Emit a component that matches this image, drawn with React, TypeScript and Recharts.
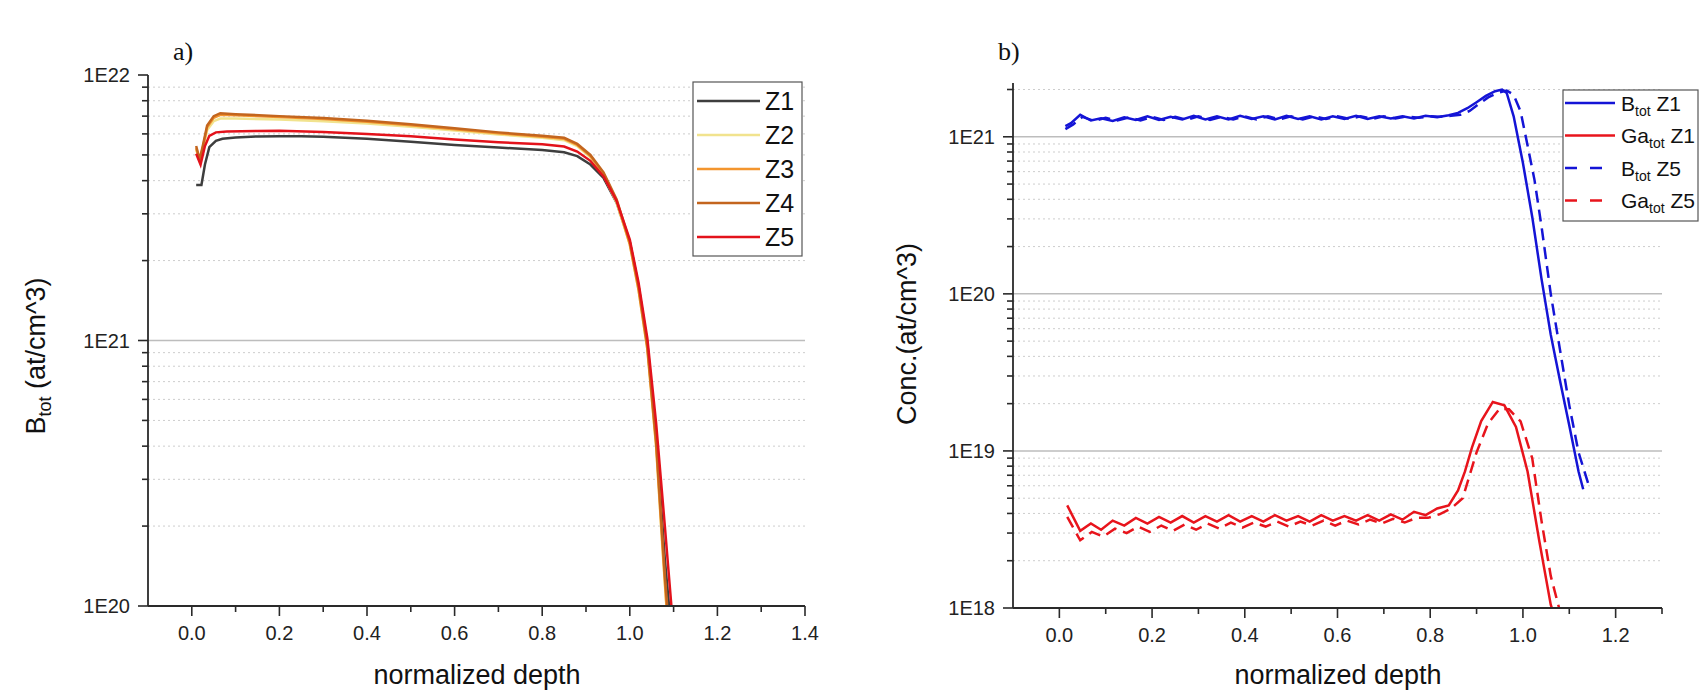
import { CartesianGrid, Line, LineChart, XAxis, YAxis } from "recharts";

type Pt = [number, number];

// panel a) — B_tot profiles for zones Z1..Z5 (depth, at/cm^3)
const bTotZ1: Pt[] = [
  [0.01, 3.85e21], [0.022, 3.85e21], [0.03, 4.6e21], [0.04, 5.35e21], [0.055, 5.65e21], [0.07, 5.75e21],
  [0.1, 5.82e21], [0.15, 5.87e21], [0.2, 5.88e21], [0.25, 5.88e21], [0.3, 5.85e21], [0.4, 5.75e21],
  [0.5, 5.6e21], [0.6, 5.45e21], [0.7, 5.33e21], [0.8, 5.22e21], [0.85, 5.12e21], [0.88, 4.95e21],
  [0.91, 4.6e21], [0.94, 4.1e21], [0.97, 3.3e21], [1.0, 2.35e21], [1.02, 1.6e21], [1.04, 9.8e20],
  [1.06, 4.4e20], [1.08, 1.5e20], [1.095, 8e19],
];
const bTotZ2: Pt[] = [
  [0.01, 5.25e21], [0.018, 4.75e21], [0.026, 5.3e21], [0.035, 6.2e21], [0.05, 6.7e21], [0.065, 6.85e21],
  [0.1, 6.85e21], [0.2, 6.8e21], [0.3, 6.7e21], [0.4, 6.56e21], [0.5, 6.38e21], [0.6, 6.18e21],
  [0.7, 5.97e21], [0.8, 5.8e21], [0.85, 5.68e21], [0.88, 5.4e21], [0.91, 4.9e21], [0.94, 4.2e21],
  [0.97, 3.3e21], [1.0, 2.3e21], [1.02, 1.55e21], [1.04, 9.3e20], [1.06, 4e20], [1.075, 1.6e20], [1.09, 7e19],
];
const bTotZ3: Pt[] = [
  [0.01, 5.3e21], [0.018, 4.75e21], [0.026, 5.4e21], [0.035, 6.35e21], [0.05, 6.9e21], [0.065, 7.08e21],
  [0.1, 7.05e21], [0.2, 6.95e21], [0.3, 6.83e21], [0.4, 6.67e21], [0.5, 6.47e21], [0.6, 6.25e21],
  [0.7, 6.03e21], [0.8, 5.85e21], [0.85, 5.75e21], [0.88, 5.45e21], [0.91, 4.95e21], [0.94, 4.25e21],
  [0.97, 3.35e21], [1.0, 2.3e21], [1.02, 1.55e21], [1.04, 9.3e20], [1.06, 4.05e20], [1.075, 1.65e20], [1.09, 7e19],
];
const bTotZ4: Pt[] = [
  [0.01, 5.4e21], [0.018, 4.8e21], [0.026, 5.5e21], [0.035, 6.45e21], [0.05, 7.0e21], [0.065, 7.18e21],
  [0.1, 7.12e21], [0.2, 7.0e21], [0.3, 6.88e21], [0.4, 6.72e21], [0.5, 6.52e21], [0.6, 6.3e21],
  [0.7, 6.08e21], [0.8, 5.9e21], [0.85, 5.8e21], [0.88, 5.5e21], [0.91, 5.0e21], [0.94, 4.3e21],
  [0.97, 3.4e21], [1.0, 2.35e21], [1.02, 1.6e21], [1.04, 9.6e20], [1.06, 4.2e20], [1.08, 1.3e20], [1.09, 8e19],
];
const bTotZ5: Pt[] = [
  [0.01, 5.05e21], [0.02, 4.6e21], [0.03, 5.4e21], [0.04, 5.9e21], [0.055, 6.08e21], [0.08, 6.12e21],
  [0.15, 6.15e21], [0.2, 6.16e21], [0.3, 6.1e21], [0.4, 6.0e21], [0.5, 5.88e21], [0.6, 5.72e21],
  [0.7, 5.58e21], [0.8, 5.48e21], [0.85, 5.38e21], [0.88, 5.15e21], [0.91, 4.75e21], [0.94, 4.15e21],
  [0.97, 3.35e21], [1.0, 2.4e21], [1.02, 1.65e21], [1.04, 1.02e21], [1.06, 4.9e20], [1.08, 2e20],
  [1.095, 1e20], [1.105, 7e19],
];

// panel b) — B and Ga totals for Z1 and Z5
const bZ1: Pt[] = [
  [0.013, 1.17e21], [0.025, 1.22e21], [0.045, 1.38e21], [0.068, 1.27e21], [0.09, 1.31e21],
  [0.115, 1.26e21], [0.14, 1.33e21], [0.165, 1.28e21], [0.19, 1.35e21], [0.215, 1.28e21], [0.24, 1.34e21],
  [0.265, 1.29e21], [0.29, 1.36e21], [0.315, 1.29e21], [0.34, 1.35e21], [0.365, 1.29e21], [0.39, 1.36e21],
  [0.415, 1.3e21], [0.44, 1.35e21], [0.465, 1.29e21], [0.49, 1.36e21], [0.515, 1.3e21], [0.54, 1.35e21],
  [0.565, 1.29e21], [0.59, 1.35e21], [0.615, 1.3e21], [0.64, 1.36e21], [0.665, 1.3e21], [0.69, 1.35e21],
  [0.715, 1.31e21], [0.74, 1.35e21], [0.765, 1.31e21], [0.79, 1.36e21], [0.815, 1.33e21], [0.84, 1.37e21],
  [0.86, 1.42e21], [0.88, 1.52e21], [0.9, 1.66e21], [0.92, 1.82e21], [0.94, 1.95e21], [0.955, 2.0e21],
  [0.965, 1.9e21], [0.98, 1.35e21], [1.0, 6.8e20], [1.02, 3.1e20], [1.04, 1.25e20], [1.06, 5.5e19],
  [1.08, 2.8e19], [1.1, 1.45e19], [1.12, 7.4e18], [1.13, 5.7e18],
];
const gaZ1: Pt[] = [
  [0.017, 4.5e18], [0.045, 3.1e18], [0.068, 3.45e18], [0.09, 3.15e18], [0.115, 3.6e18], [0.14, 3.35e18],
  [0.165, 3.75e18], [0.19, 3.45e18], [0.215, 3.8e18], [0.24, 3.5e18], [0.265, 3.85e18], [0.29, 3.5e18],
  [0.315, 3.85e18], [0.34, 3.55e18], [0.365, 3.9e18], [0.39, 3.55e18], [0.415, 3.85e18], [0.44, 3.55e18],
  [0.465, 3.9e18], [0.49, 3.6e18], [0.515, 3.85e18], [0.54, 3.55e18], [0.565, 3.9e18], [0.59, 3.6e18],
  [0.615, 3.85e18], [0.64, 3.6e18], [0.665, 3.9e18], [0.69, 3.6e18], [0.715, 3.95e18], [0.74, 3.65e18],
  [0.765, 4.1e18], [0.79, 3.9e18], [0.815, 4.3e18], [0.84, 4.5e18], [0.86, 5.6e18], [0.875, 7.4e18],
  [0.89, 1.05e19], [0.91, 1.55e19], [0.935, 2.05e19], [0.96, 1.95e19], [0.985, 1.42e19], [1.01, 7.4e18],
  [1.035, 2.7e18], [1.06, 1.05e18], [1.07, 8.5e17],
];
const bZ5: Pt[] = [
  [0.013, 1.12e21], [0.03, 1.2e21], [0.05, 1.34e21], [0.075, 1.26e21], [0.1, 1.32e21], [0.125, 1.27e21],
  [0.15, 1.33e21], [0.175, 1.27e21], [0.2, 1.34e21], [0.225, 1.28e21], [0.25, 1.34e21], [0.275, 1.28e21],
  [0.3, 1.35e21], [0.325, 1.28e21], [0.35, 1.34e21], [0.375, 1.29e21], [0.4, 1.35e21], [0.425, 1.29e21],
  [0.45, 1.35e21], [0.475, 1.29e21], [0.5, 1.35e21], [0.525, 1.29e21], [0.55, 1.35e21], [0.575, 1.3e21],
  [0.6, 1.35e21], [0.625, 1.3e21], [0.65, 1.35e21], [0.675, 1.3e21], [0.7, 1.35e21], [0.725, 1.31e21],
  [0.75, 1.35e21], [0.775, 1.32e21], [0.8, 1.35e21], [0.82, 1.34e21], [0.845, 1.36e21], [0.865, 1.38e21],
  [0.885, 1.46e21], [0.905, 1.62e21], [0.925, 1.78e21], [0.945, 1.9e21], [0.965, 1.97e21], [0.98, 1.85e21],
  [0.995, 1.45e21], [1.01, 8.8e20], [1.025, 5.3e20], [1.04, 2.7e20], [1.06, 1.0e20], [1.08, 4.4e19],
  [1.1, 1.95e19], [1.12, 9.8e18], [1.143, 5.9e18],
];
const gaZ5: Pt[] = [
  [0.017, 3.8e18], [0.045, 2.7e18], [0.07, 3.05e18], [0.095, 2.85e18], [0.12, 3.2e18], [0.145, 3.0e18],
  [0.17, 3.3e18], [0.195, 3.05e18], [0.22, 3.35e18], [0.245, 3.1e18], [0.27, 3.4e18], [0.295, 3.15e18],
  [0.32, 3.45e18], [0.345, 3.2e18], [0.37, 3.5e18], [0.395, 3.25e18], [0.42, 3.5e18], [0.445, 3.3e18],
  [0.47, 3.55e18], [0.495, 3.3e18], [0.52, 3.55e18], [0.545, 3.35e18], [0.57, 3.6e18], [0.595, 3.35e18],
  [0.62, 3.6e18], [0.645, 3.4e18], [0.67, 3.65e18], [0.695, 3.45e18], [0.72, 3.7e18], [0.745, 3.5e18],
  [0.77, 3.75e18], [0.795, 3.75e18], [0.82, 3.95e18], [0.845, 4.3e18], [0.87, 5.0e18], [0.9, 9.8e18],
  [0.925, 1.5e19], [0.95, 1.86e19], [0.97, 1.84e19], [0.995, 1.54e19], [1.02, 9.0e18], [1.04, 3.6e18],
  [1.06, 1.6e18], [1.078, 1.0e18], [1.085, 8e17],
];

const zoneNames = ["Z1", "Z2", "Z3", "Z4", "Z5"];
const zoneColors = ["#3e3e3e", "#f1e38e", "#f3952e", "#c3651e", "#e3121b"];
const zoneData = [bTotZ1, bTotZ2, bTotZ3, bTotZ4, bTotZ5];

const concSpecies = ["B", "Ga", "B", "Ga"];
const concZones = ["Z1", "Z1", "Z5", "Z5"];
const concColors = ["#1414d6", "#e8141c", "#1414d6", "#e8141c"];
const concDashed = [false, false, true, true];
const concData = [bZ1, gaZ1, bZ5, gaZ5];

const leftDecades = [1e20, 1e21, 1e22];
const rightDecades = [1e18, 1e19, 1e20, 1e21];
const leftDepthTicks = Array.from({ length: 15 }, (_, i) => i / 10);
const rightDepthTicks = Array.from({ length: 14 }, (_, i) => i / 10);

const AXIS = "#2a2a2a";
const FONT = "'Liberation Sans', Arial, sans-serif";

const toPoints = (pairs: Pt[]) => pairs.map(([x, y]) => ({ x, y }));

// 2..9 x 10^k between the decades, capped at the top of the domain
function minorTicks(decades: number[], top: number) {
  const out: number[] = [];
  for (const d of decades) {
    for (let m = 2; m <= 9; m++) {
      const v = m * d;
      if (v <= top) out.push(v);
    }
  }
  return out;
}

function LogTick({ x, y, payload }: any) {
  const v = payload.value as number;
  const exp = Math.round(Math.log10(v));
  const major = Math.abs(Math.log10(v) - exp) < 1e-6;
  return (
    <g>
      <line x1={x} x2={x - (major ? 10 : 6)} y1={y} y2={y} stroke={AXIS} strokeWidth={1.6} />
      {major && (
        <text x={x - 18} y={y} dy="0.36em" textAnchor="end" fontSize={20} fontFamily={FONT} fill="#222">
          {`1E${exp}`}
        </text>
      )}
    </g>
  );
}

function DepthTick({ x, y, payload }: any) {
  const v = payload.value as number;
  const major = Math.round(v * 10) % 2 === 0;
  return (
    <g>
      <line x1={x} x2={x} y1={y} y2={y + (major ? 10 : 6)} stroke={AXIS} strokeWidth={1.6} />
      {major && (
        <text x={x} y={y + 34} textAnchor="middle" fontSize={20} fontFamily={FONT} fill="#222">
          {v.toFixed(1)}
        </text>
      )}
    </g>
  );
}

function Overlay() {
  return (
    <svg width={1702} height={697} style={{ position: "absolute", left: 0, top: 0, pointerEvents: "none" }}>
      <g fontFamily={FONT} fill="#111">
        <text x={173} y={60} fontSize={26} fontFamily="'Liberation Serif', serif">a)</text>
        <text x={998} y={60} fontSize={26} fontFamily="'Liberation Serif', serif">b)</text>

        <text x={477} y={675} dy="0.35em" textAnchor="middle" fontSize={27}>normalized depth</text>
        <text x={1338} y={675} dy="0.35em" textAnchor="middle" fontSize={27}>normalized depth</text>

        <text transform="translate(36,356) rotate(-90)" dy="0.35em" textAnchor="middle" fontSize={27}>
          B<tspan fontSize={18} dy={6}>tot</tspan>
          <tspan dy={-6}> (at/cm^3)</tspan>
        </text>
        <text transform="translate(907,334) rotate(-90)" dy="0.35em" textAnchor="middle" fontSize={27}>
          Conc.(at/cm^3)
        </text>

        {/* legend, panel a */}
        <rect x={693} y={82} width={109} height={174} fill="#fff" stroke="#555" strokeWidth={1.2} />
        {zoneNames.map((n, i) => (
          <g key={n}>
            <line x1={697} x2={760} y1={101 + 34 * i} y2={101 + 34 * i} stroke={zoneColors[i]} strokeWidth={2.5} />
            <text x={765} y={101 + 34 * i} dy="0.36em" fontSize={25}>{n}</text>
          </g>
        ))}

        {/* legend, panel b */}
        <rect x={1563} y={90} width={135} height={131} fill="#fff" stroke="#555" strokeWidth={1.2} />
        {concSpecies.map((s, i) => (
          <g key={i}>
            <line
              x1={1565}
              x2={1615}
              y1={103 + 32.5 * i}
              y2={103 + 32.5 * i}
              stroke={concColors[i]}
              strokeWidth={2.5}
              strokeDasharray={concDashed[i] ? "12 13" : undefined}
            />
            <text x={1621} y={103 + 32.5 * i} dy="0.36em" fontSize={21}>
              {s}
              <tspan fontSize={14} dy={5}>tot</tspan>
              <tspan dy={-5}> {concZones[i]}</tspan>
            </text>
          </g>
        ))}
      </g>
    </svg>
  );
}

export default function App() {
  const leftMinor = minorTicks(leftDecades.slice(0, 2), 1e22);
  const rightMinor = minorTicks(rightDecades, 2.2e21);

  return (
    <div style={{ position: "absolute", left: 0, top: 0, width: 1702, height: 697, background: "#fff" }}>
      <div style={{ position: "absolute", left: 0, top: 0 }}>
        <LineChart width={860} height={697} margin={{ top: 75, right: 55, bottom: 51, left: 88 }}>
          <CartesianGrid vertical={false} horizontalValues={leftMinor} stroke="#cdcdcd" strokeDasharray="2 3" />
          <CartesianGrid vertical={false} horizontalValues={[1e21]} stroke="#bdbdbd" strokeWidth={1.5} />
          <XAxis
            type="number"
            dataKey="x"
            domain={[-0.1, 1.4]}
            ticks={leftDepthTicks}
            interval={0}
            allowDataOverflow
            height={40}
            tickSize={0}
            tickMargin={0}
            tickLine={false}
            tick={DepthTick}
            axisLine={{ stroke: AXIS, strokeWidth: 1.8 }}
          />
          <YAxis
            type="number"
            scale="log"
            domain={[1e20, 1e22]}
            ticks={[...leftDecades, ...leftMinor].sort((a, b) => a - b)}
            interval={0}
            allowDataOverflow
            width={60}
            tickSize={0}
            tickMargin={0}
            tickLine={false}
            tick={LogTick}
            axisLine={{ stroke: AXIS, strokeWidth: 1.8 }}
          />
          {zoneData.map((d, i) => (
            <Line
              key={zoneNames[i]}
              name={zoneNames[i]}
              data={toPoints(d)}
              dataKey="y"
              type="linear"
              stroke={zoneColors[i]}
              strokeWidth={2.5}
              dot={false}
              isAnimationActive={false}
            />
          ))}
        </LineChart>
      </div>

      <div style={{ position: "absolute", left: 860, top: 0 }}>
        <LineChart width={842} height={697} margin={{ top: 83, right: 40, bottom: 49, left: 93 }}>
          <CartesianGrid vertical={false} horizontalValues={rightMinor} stroke="#cdcdcd" strokeDasharray="2 3" />
          <CartesianGrid vertical={false} horizontalValues={[1e19, 1e20, 1e21]} stroke="#bdbdbd" strokeWidth={1.5} />
          <XAxis
            type="number"
            dataKey="x"
            domain={[-0.1, 1.3]}
            ticks={rightDepthTicks}
            interval={0}
            allowDataOverflow
            height={40}
            tickSize={0}
            tickMargin={0}
            tickLine={false}
            tick={DepthTick}
            axisLine={{ stroke: AXIS, strokeWidth: 1.8 }}
          />
          <YAxis
            type="number"
            scale="log"
            domain={[1e18, 2.2e21]}
            ticks={[...rightDecades, ...rightMinor].sort((a, b) => a - b)}
            interval={0}
            allowDataOverflow
            width={60}
            tickSize={0}
            tickMargin={0}
            tickLine={false}
            tick={LogTick}
            axisLine={{ stroke: AXIS, strokeWidth: 1.8 }}
          />
          {concData.map((d, i) => (
            <Line
              key={i}
              name={`${concSpecies[i]}tot ${concZones[i]}`}
              data={toPoints(d)}
              dataKey="y"
              type="linear"
              stroke={concColors[i]}
              strokeWidth={2.5}
              strokeDasharray={concDashed[i] ? "12 7" : undefined}
              dot={false}
              isAnimationActive={false}
            />
          ))}
        </LineChart>
      </div>

      <Overlay />
    </div>
  );
}
